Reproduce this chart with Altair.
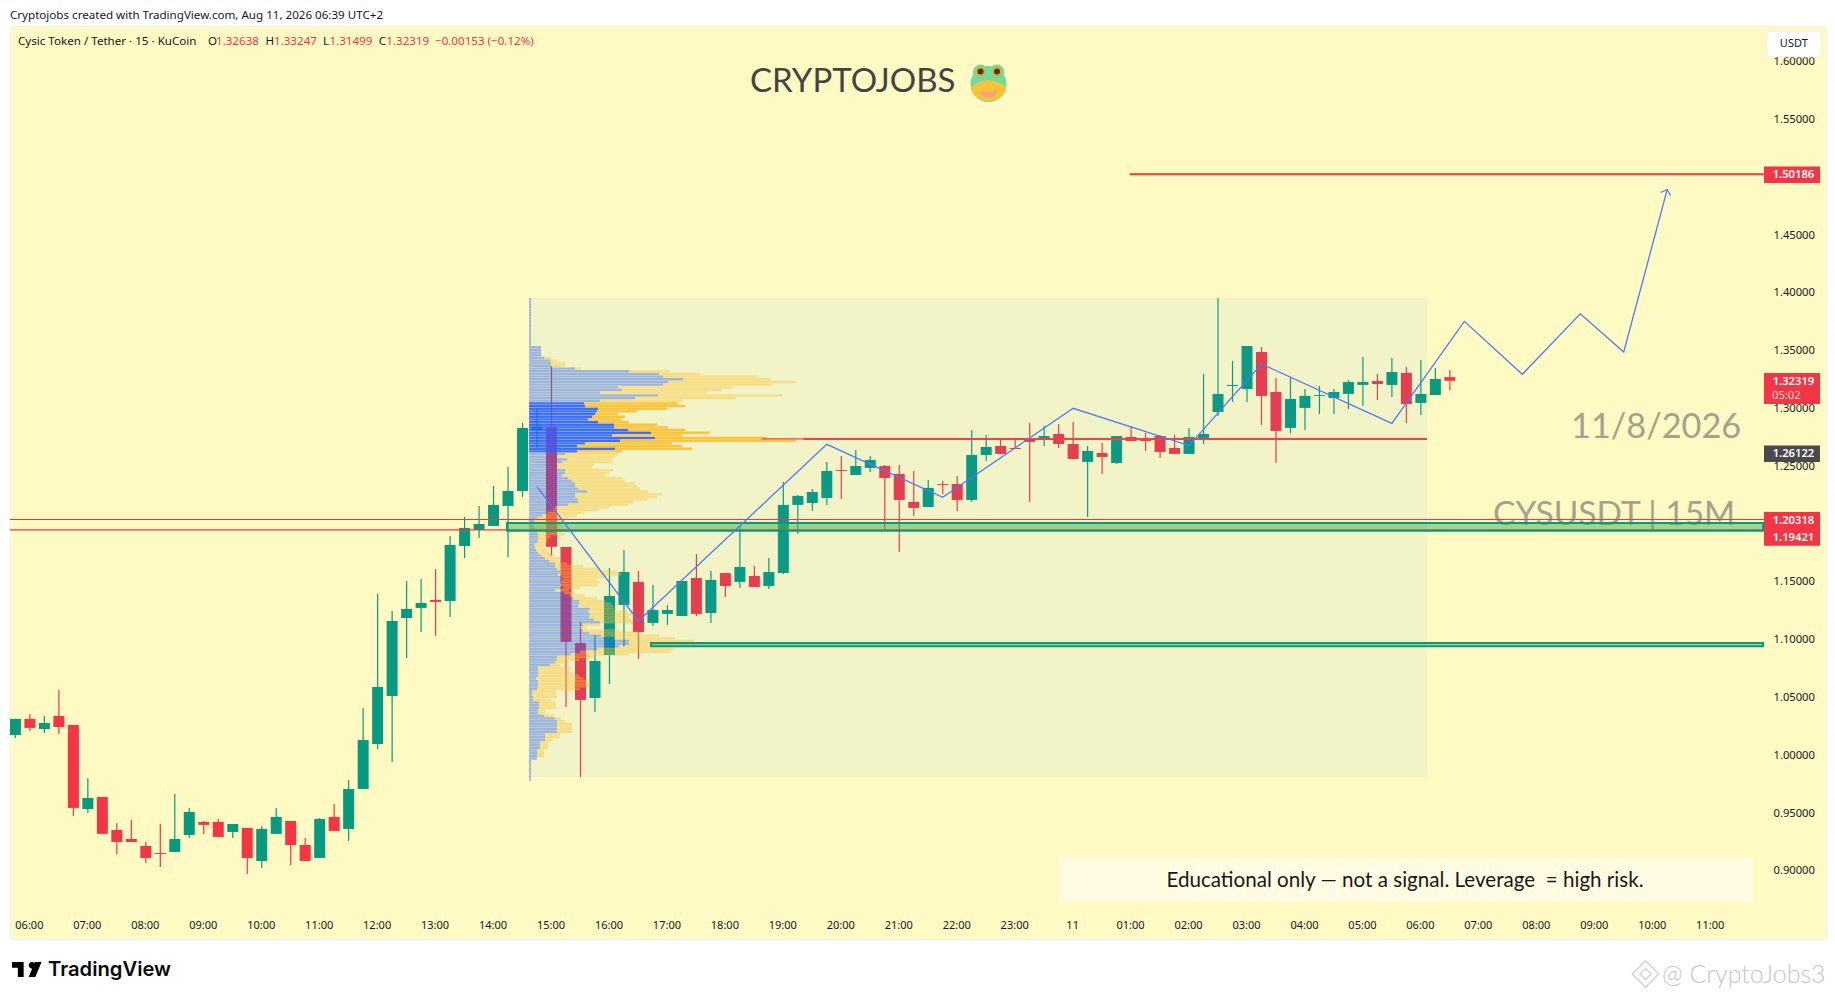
import altair as alt
import pandas as pd

# ---------- candle values (15 min bars, first bar = 05:45) ----------
open_ = [1.0168,1.0307,1.0220,1.0332,1.0255,.9528,.9632,.9346,.9268,.9208,
 .9147,.9156,.9303,.9416,.9416,.9329,.9364,.9078,.9312,.9424,
 .9216,.9104,.9459,.9355,.9701,1.0090,1.0505,1.1180,1.1267,1.1336,
 1.1327,1.1803,1.1941,1.1976,1.2149,1.2279,1.2806,1.2835,1.1794,1.0964,
 1.0488,1.0860,1.1293,1.1492,1.1137,1.1215,1.1197,1.1526,1.1223,1.1569,
 1.1492,1.1543,1.1457,1.1569,1.2158,1.2175,1.2218,1.2460,1.2417,1.2478,
 1.2495,1.2426,1.2184,1.2140,1.2339,1.2339,1.2201,1.2590,1.2668,1.2651,
 1.2729,1.2729,1.2772,1.2685,1.2530,1.2607,1.2521,1.2746,1.2729,1.2754,
 1.2651,1.2599,1.2729,1.2962,1.3187,1.3161,1.3481,1.3135,1.2824,1.2997,
 1.3101,1.3083,1.3118,1.3196,1.3230,1.3196,1.3300,1.3040,1.3109,1.32638]
high = [1.0307,1.0350,1.0332,1.0557,1.0255,.9796,.9632,.9407,.9433,.9243,
 .9398,.9658,.9537,.9424,.9441,.9398,.9364,.9381,.9537,.9424,
 .9277,.9450,.9571,.9779,1.0402,1.1388,1.1241,1.1500,1.1518,1.1604,
 1.1890,1.2054,1.2149,1.2322,1.2486,1.2867,1.2994,1.3360,1.1794,1.1146,
 1.1033,1.1613,1.1768,1.1587,1.1466,1.1293,1.1500,1.1734,1.1587,1.1569,
 1.1976,1.1630,1.1699,1.2357,1.2244,1.2296,1.2530,1.2581,1.2633,1.2581,
 1.2504,1.2504,1.2452,1.2374,1.2365,1.2409,1.2806,1.2763,1.2729,1.2720,
 1.2867,1.2841,1.2858,1.2876,1.2668,1.2694,1.2754,1.2841,1.2780,1.2763,
 1.2763,1.2824,1.3291,1.3948,1.3403,1.3533,1.3524,1.3256,1.3256,1.3161,
 1.3187,1.3161,1.3239,1.3438,1.3291,1.3429,1.3351,1.3412,1.3343,1.33247]
low = [1.0142,1.0203,1.0185,1.0177,.9467,.9493,.9312,.9139,.9243,.9061,
 .9026,.9156,.9277,.9312,.9286,.9277,.8966,.9018,.9312,.9043,
 .9078,.9104,.9338,.9251,.9701,1.0047,.9935,1.0834,1.1059,1.1025,
 1.1189,1.1699,1.1872,1.1976,1.1708,1.2227,1.2648,1.1717,1.0410,.9805,
 1.0367,1.0609,1.0929,1.0826,1.1111,1.1120,1.1197,1.1197,1.1137,1.1362,
 1.1440,1.1448,1.1431,1.1561,1.1907,1.2106,1.2158,1.2209,1.2417,1.2443,
 1.1941,1.1751,1.2063,1.2140,1.2253,1.2106,1.2184,1.2538,1.2599,1.2642,
 1.2184,1.2668,1.2651,1.2556,1.2054,1.2426,1.2512,1.2711,1.2625,1.2564,
 1.2599,1.2599,1.2685,1.2928,1.3049,1.3049,1.2850,1.2521,1.2780,1.2806,
 1.2945,1.2945,1.2988,1.3014,1.3066,1.3092,1.2867,1.2936,1.3109,1.31499]
close = [1.0307,1.0229,1.0272,1.0237,.9537,.9623,.9312,.9243,.9243,.9104,
 .9139,.9268,.9502,.9390,.9286,.9398,.9104,.9355,.9459,.9216,
 .9078,.9441,.9338,.9701,1.0125,1.0583,1.1154,1.1258,1.1310,1.1319,
 1.1812,1.1959,1.1993,1.2158,1.2279,1.2824,1.2835,1.1797,1.0973,1.0471,
 1.0808,1.1370,1.1578,1.1059,1.1249,1.1249,1.1500,1.1215,1.1509,1.1457,
 1.1621,1.1448,1.1578,1.2158,1.2236,1.2270,1.2452,1.2452,1.2495,1.2547,
 1.2391,1.2201,1.2132,1.2305,1.2331,1.2201,1.2590,1.2659,1.2599,1.2642,
 1.2703,1.2754,1.2685,1.2556,1.2625,1.2573,1.2754,1.2711,1.2711,1.2616,
 1.2599,1.2746,1.2772,1.3118,1.3196,1.3533,1.3101,1.2798,1.3075,1.3101,
 1.3109,1.3135,1.3222,1.3222,1.3204,1.3308,1.3031,1.3118,1.3248,1.32319]

# ---------- volume profile, top row to bottom row ----------
prof_up = [2]*18 + [12,12,12,12,15,21,22,22,46,100,130,134,154,139,134,89,93,71,129,106,71,
 55,56,69,68,66,63,59,69,85,85,99,122,83,126,91,56,48,86,48,
 36,28,38,33,28,28,36,36,33,39,43,46,46,49,58,46,46,49,49,39,26,24,18,13,8,5,3,5,6,8,9,9,9,8,5,6,7,9,12,16,20,26,
 26,28,31,29,33,33,32,31,34,26,35,41,44,50,50,49,61,59,61,60,65,71,54,51,54,60,72,85,100,100,90,68,51,42,
 28,28,26,21,9,9,9,9,7,9,9,9,8,3,3,4,4,10,10,10,9,9,15,26,28,28,28,28,28,16,16,16,11,11,11,8,8,8,8,2,2,2,2,2,2,2,2]
prof_total = [2]*18 + [12,12,12,12,22,28,36,36,52,140,171,228,242,267,243,203,193,178,253,206,153,
 149,156,138,108,89,96,93,100,128,139,156,181,153,238,267,143,153,163,93,
 89,86,83,83,65,63,84,80,76,93,96,106,108,111,119,133,128,118,105,99,80,70,55,48,39,33,31,32,33,33,36,22,19,18,17,16,18,21,24,31,29,38,
 54,70,88,92,75,68,71,69,51,40,45,56,68,76,82,84,85,98,103,100,102,104,71,58,90,110,130,146,165,171,150,144,141,100,
 64,50,39,31,42,41,44,50,54,59,61,60,51,27,27,28,22,27,27,27,16,16,25,32,36,43,43,43,43,31,31,24,19,19,19,15,15,15,8,2,2,2,2,2,2,2,2]
va_first_row, va_last_row = 18 + 21, 18 + 39
prof_top_price = 1.3948
prof_row_step = 0.00231

# ---------- drawings ----------
trend_bar = [36,43,56,64,73,81,86,95,100,104,108,111,114]
trend_price = [1.2316,1.1154,1.2682,1.2224,1.2994,1.2671,1.3377,1.2864,1.3746,1.3288,1.3811,1.3480,1.4886]
arrow_bar = [113.55,114,114.24]
arrow_price = [1.4861,1.4886,1.4833]

tick_bars = list(range(1, 118, 4))
tick_labels = ['06:00','07:00','08:00','09:00','10:00','11:00','12:00','13:00','14:00','15:00','16:00','17:00',
 '18:00','19:00','20:00','21:00','22:00','23:00','11','01:00','02:00','03:00','04:00','05:00','06:00','07:00',
 '08:00','09:00','10:00','11:00']
price_ticks = [.90,.95,1.00,1.05,1.10,1.15,1.20,1.25,1.30,1.35,1.40,1.45,1.50,1.55,1.60]

# ---------- geometry / style ----------
OX, OY = 10, 26            # page position of the plot area
W, H = 1816, 913
X_DOM = [-0.373, 124.96]
Y_DOM = [0.8403, 1.6301]
GREEN, RED, BLUE, AMBER = '#089981', '#F23645', '#2962FF', '#FFBF2D'
FONT = 'Noto Sans'
DARK = '#131722'
END_BAR = 120.67
BOX_L, BOX_R = 35.45, 97.42
PX_PER_BAR = 14.49

xs = alt.Scale(domain=X_DOM, nice=False, zero=False)
ys = alt.Scale(domain=Y_DOM, nice=False, zero=False)
xaxis = alt.Axis(values=tick_bars, title=None, grid=False, ticks=False, tickSize=0, domain=False,
                 labelExpr=str(tick_labels) + '[round((datum.value-1)/4)]', labelFont=FONT, labelFontSize=11,
                 labelColor=DARK, labelPadding=-14, labelBaseline='middle', labelOverlap=False, labelFlush=False,
                 labelOffset=-1)
yaxis = alt.Axis(values=price_ticks, format='.5f', orient='right', title=None, grid=False, ticks=False, tickSize=0,
                 domain=False, labelFont=FONT, labelFontSize=11.2, labelColor=DARK, labelPadding=-53,
                 labelAlign='left', labelBaseline='middle', labelOverlap=False, labelFlush=False, labelOffset=1)
X = lambda f: alt.X(f, type='quantitative', scale=xs, axis=xaxis)
Y = lambda f: alt.Y(f, type='quantitative', scale=ys, axis=yaxis)

dummy = pd.DataFrame({'a': [0]})
def txt(s, px, py, size, color, align='left', font=FONT, weight='normal', **kw):
    return alt.Chart(dummy).mark_text(text=s, align=align, baseline='middle', font=font, fontSize=size,
                                      color=color, fontWeight=weight, **kw).encode(
        x=alt.value(px - OX), y=alt.value(py - OY))
def box(x0, x1, y0, y1, fill, **kw):
    return alt.Chart(dummy).mark_rect(fill=fill, **kw).encode(
        x=alt.value(x0 - OX), x2=alt.value(x1 - OX), y=alt.value(y0 - OY), y2=alt.value(y1 - OY))
def dot(px, py, d, color, shape='circle', **kw):
    return alt.Chart(dummy).mark_point(filled=True, shape=shape, size=d * d, color=color, opacity=1, **kw).encode(
        x=alt.value(px - OX), y=alt.value(py - OY))

candles = pd.DataFrame({'i': range(len(open_)), 'o': open_, 'h': high, 'l': low, 'c': close})
candles['col'] = [GREEN if c >= o else RED for o, c in zip(open_, close)]
candles['top'] = candles[['o', 'c']].max(axis=1)
candles['bot'] = candles[['o', 'c']].min(axis=1)
candles['xl'] = candles['i'] - 0.38
candles['xr'] = candles['i'] + 0.38
colr = alt.Color('col:N', scale=None, legend=None)
wicks = alt.Chart(candles).mark_rule(strokeWidth=1.2).encode(x=X('i'), y=Y('l'), y2=alt.Y2('h'), color=colr)
bodies = alt.Chart(candles).mark_rect().encode(x=X('xl'), x2=alt.X2('xr'), y=Y('top'), y2=alt.Y2('bot'), color=colr)

rows = pd.DataFrame({'k': range(len(prof_up)), 'up': prof_up, 'tot': prof_total})
rows['ptop'] = prof_top_price - rows['k'] * prof_row_step
rows['pbot'] = rows['ptop'] - prof_row_step * 0.9
rows['x0'] = BOX_L
rows['xu'] = BOX_L + rows['up'] / PX_PER_BAR
rows['xt'] = BOX_L + rows['tot'] / PX_PER_BAR
rows['op'] = [0.9 if va_first_row <= k <= va_last_row else 0.42 for k in rows['k']]
op = alt.Opacity('op:Q', scale=None, legend=None)
p_blue = alt.Chart(rows).mark_rect(color=BLUE).encode(x=X('x0'), x2=alt.X2('xu'), y=Y('ptop'), y2=alt.Y2('pbot'), opacity=op)
p_amber = alt.Chart(rows[rows.tot > rows.up]).mark_rect(color=AMBER).encode(x=X('xu'), x2=alt.X2('xt'), y=Y('ptop'), y2=alt.Y2('pbot'), opacity=op)

range_box = alt.Chart(pd.DataFrame({'a': [BOX_L], 'b': [BOX_R], 't': [1.3948], 'u': [0.9805]})).mark_rect(
    color='#46A3E0', opacity=0.07).encode(x=X('a'), x2=alt.X2('b'), y=Y('t'), y2=alt.Y2('u'))

trend = alt.Chart(pd.DataFrame({'i': trend_bar, 'p': trend_price, 'n': range(len(trend_bar))})).mark_line(
    color='#4B7BF5', strokeWidth=1.3).encode(x=X('i'), y=Y('p'), order='n:Q')
arrow = alt.Chart(pd.DataFrame({'i': arrow_bar, 'p': arrow_price, 'n': range(3)})).mark_line(
    color='#4B7BF5', strokeWidth=1.2).encode(x=X('i'), y=Y('p'), order='n:Q')

def hline(a, b, p, color, w):
    return alt.Chart(pd.DataFrame({'a': [a], 'b': [b], 'p': [p]})).mark_rule(color=color, strokeWidth=w).encode(
        x=X('a'), x2=alt.X2('b'), y=Y('p'))
def band(a, b, t, u):
    return alt.Chart(pd.DataFrame({'a': [a], 'b': [b], 't': [t], 'u': [u]})).mark_rect(
        fill='#4CAF50', fillOpacity=0.5, stroke=GREEN, strokeWidth=2).encode(
        x=X('a'), x2=alt.X2('b'), y=Y('t'), y2=alt.Y2('u'))

BG_TXT = '#A3A28C'
layers = [
    txt('11/8/2026', 1571, 428, 34.3, BG_TXT, font='Lato'),
    txt('CYSUSDT\u00a0|\u00a015M', 1493, 515, 33.5, BG_TXT, font='Lato'),
    wicks, bodies, range_box, p_blue, p_amber,
    hline(X_DOM[0], END_BAR, 1.20318, RED, 1.1),
    hline(X_DOM[0], END_BAR, 1.19421, RED, 1.1),
    hline(76.9, END_BAR, 1.50186, RED, 1.8),
    hline(51.5, 64, 1.2729, '#EE4444', 1.2),
    hline(54.4, BOX_R, 1.2729, '#EE4444', 2),
    band(33.93, END_BAR - 0.05, 1.2002, 1.1935),
    band(43.87, END_BAR - 0.05, 1.0964, 1.0935),
    trend, arrow,
    # header + legend
    txt('Cryptojobs created with TradingView.com, Aug 11, 2026 06:39 UTC+2', 10, 15.5, 11.6, DARK),
    txt('Cysic Token / Tether · 15 · KuCoin', 18, 41.5, 11.6, DARK),
    txt('O', 208, 41.5, 11.6, DARK), txt('1.32638', 216, 41.5, 11.6, RED),
    txt('H', 265.5, 41.5, 11.6, DARK), txt('1.33247', 274, 41.5, 11.6, RED),
    txt('L', 323, 41.5, 11.6, DARK), txt('1.31499', 329.4, 41.5, 11.6, RED),
    txt('C', 378.8, 41.5, 11.6, DARK), txt('1.32319', 386.3, 41.5, 11.6, RED),
    txt('−0.00153 (−0.12%)', 435, 41.5, 11.6, RED),
    # title + frog
    txt('CRYPTOJOBS', 750, 81.5, 33, '#434343', font='Lato'),
    dot(980.5, 72, 15, '#6FDC9E'), dot(997, 72, 15, '#6FDC9E'),
    dot(988.5, 84, 36, '#6FDC9E'),
    dot(988.5, 87, 36, '#F7C33C', shape='M -0.98 0 Q 0 -0.75 0.98 0 A 0.98 0.78 0 0 1 -0.98 0 Z'),
    dot(988.5, 94, 17, '#F8A07A', shape='M -1 -0.3 L 1 -0.3 A 1 0.7 0 0 1 -1 -0.3 Z'),
    dot(980.5, 71.5, 10, '#E9A92B'), dot(997, 71.5, 10, '#E9A92B'),
    dot(980.5, 71.5, 6, '#3B3B33'), dot(997, 71.5, 6, '#3B3B33'),
    # price labels
    box(1766.7, 1821, 31.4, 56.8, '#FFFFFF', cornerRadius=3, stroke='#F0F0EA', strokeWidth=1),
    txt('USDT', 1793.8, 44.3, 11, DARK, align='center'),
    box(1764, 1820, 166.4, 183, RED), txt('1.50186', 1772.7, 174.6, 11.2, '#FFFFFF', weight=600),
    box(1764, 1820, 373, 404, RED), txt('1.32319', 1772.7, 381.8, 11.2, '#FFFFFF', weight=600),
    txt('05:02', 1772, 395.8, 11.2, '#FFD5D5'),
    box(1764, 1820, 445.4, 462, '#4A4A4A'), txt('1.26122', 1772.7, 453.8, 11.2, '#FFFFFF', weight=600),
    box(1764, 1820, 512, 545.7, RED), txt('1.20318', 1772.7, 521, 11.2, '#FFFFFF', weight=600),
    txt('1.19421', 1772.7, 537.5, 11.2, '#FFFFFF', weight=600),
    # disclaimer
    box(1059, 1752.5, 858, 901.7, '#FFFCE3'),
    txt('Educational only — not a signal. Leverage\u00a0\u00a0= high risk.', 1405, 880.5, 20.6, '#17171A', align='center', font='Lato'),
    # footer
    dot(27, 969.5, 30, '#000000', shape='M -0.222 0.5 L -0.611 0.5 L -0.611 -0.111 L -1 -0.111 L -1 -0.5 L -0.222 -0.5 Z '
        'M 0.556 0.5 L 0.111 0.5 L 0.528 -0.5 L 0.972 -0.5 Z '
        'M 0.111 -0.278 A 0.222 0.222 0 1 1 0.111 -0.277 Z'),
    txt('TradingView', 48, 969.5, 20.2, '#0B0B0B', font='Inter', weight=600),
    txt('@ CryptoJobs3', 1662, 975, 25, '#C6C6C6', font='Lato', weight=300),
    alt.Chart(dummy).mark_point(shape='diamond', size=700, color='#D2D2D2', filled=False, strokeWidth=1.4, opacity=1).encode(
        x=alt.value(1645.5 - OX), y=alt.value(974 - OY)),
    alt.Chart(dummy).mark_point(shape='diamond', size=120, color='#D2D2D2', filled=False, strokeWidth=1.4, opacity=1).encode(
        x=alt.value(1645.5 - OX), y=alt.value(974 - OY)),
]

chart = alt.layer(*layers).properties(
    width=W, height=H,
    background='#FFFFFF',
    padding={'left': 2, 'top': 18, 'right': 1, 'bottom': 55},
    autosize=alt.AutoSizeParams(type='none', contains='content'),
    view=alt.ViewBackground(fill='#FFF9C4', stroke='#F2F2EC'),
)
chart.save('out.html', embed_options={'renderer': 'svg', 'actions': False})
